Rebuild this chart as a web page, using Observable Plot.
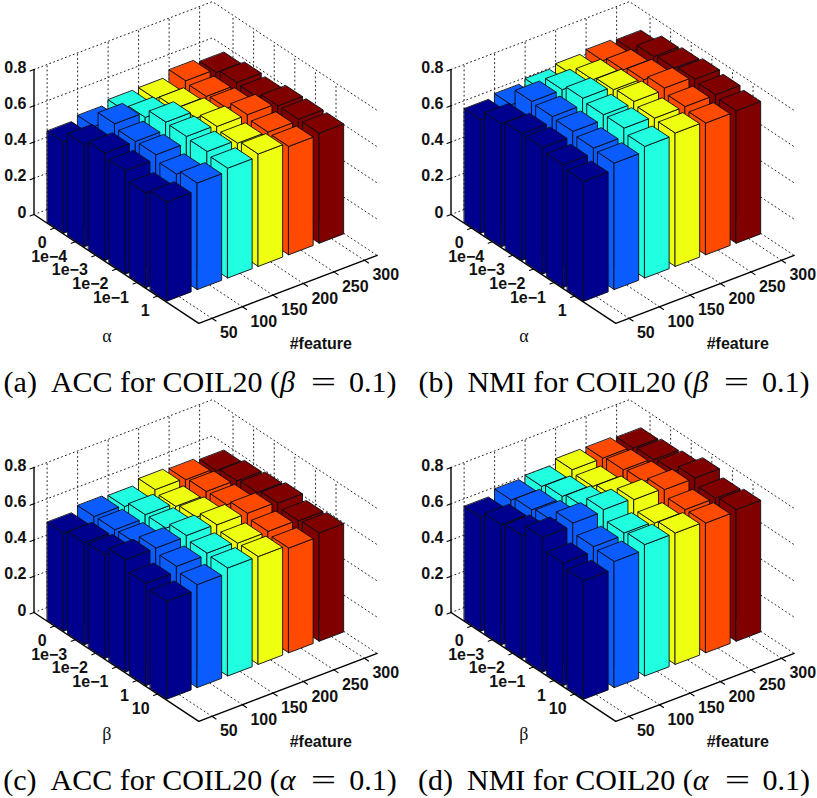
<!DOCTYPE html>
<html><head><meta charset="utf-8">
<script src="https://cdn.jsdelivr.net/npm/d3@7"></script>
<script src="https://cdn.jsdelivr.net/npm/@observablehq/plot@0.6"></script>
<style>
html,body{margin:0;padding:0;background:#fff}
#grid{display:grid;grid-template-columns:417px 400px;grid-template-rows:398px 400px;width:817px;height:798px;overflow:hidden}
.cell{position:relative;width:100%;height:100%}
.cell svg{display:block;max-width:none}
.cap{position:absolute;left:0;width:400px;top:364.5px;text-align:center;white-space:nowrap;font:30px/34px "Liberation Serif",serif;color:#000}
.cell:nth-child(even) .cap{left:-3px}
.cap .tag{margin-right:14px}
.cap .eq{display:inline-block;transform:scaleX(1.5);margin:0 17px 0 20px}
</style></head><body><div id="grid"></div>
<script>
const featureCounts=[50,100,150,200,250,300];
const alphaLevels=["0","1e\u22124","1e\u22123","1e\u22122","1e\u22121","1"];
const betaLevels=["0","1e\u22123","1e\u22122","1e\u22121","1","10"];
const zTicks=[0,0.2,0.4,0.6,0.8];
const jet=["#00008f","#0a5cff","#20ffdf","#efff10","#ff4a00","#800000"];
// rows: regularisation level; columns: #feature 50..300
const accAlpha=[
[.503,.525,.548,.550,.585,.567],
[.563,.615,.586,.573,.574,.587],
[.592,.592,.635,.593,.584,.581],
[.570,.594,.631,.622,.623,.608],
[.522,.562,.623,.605,.602,.609],
[.547,.588,.606,.620,.598,.607]];
const nmiAlpha=[
[.626,.645,.664,.682,.696,.687],
[.679,.738,.739,.730,.721,.730],
[.699,.730,.767,.750,.741,.741],
[.698,.723,.751,.760,.770,.755],
[.678,.706,.752,.743,.743,.744],
[.661,.698,.726,.736,.727,.731]];
const accBeta=[
[.541,.569,.560,.589,.580,.567],
[.563,.571,.590,.572,.590,.585],
[.572,.573,.591,.587,.592,.596],
[.620,.620,.625,.620,.620,.612],
[.564,.594,.603,.594,.595,.589],
[.540,.568,.596,.595,.578,.597]];
const nmiBeta=[
[.628,.660,.671,.699,.699,.690],
[.663,.681,.691,.682,.710,.702],
[.679,.695,.711,.702,.720,.712],
[.743,.758,.768,.759,.750,.750],
[.676,.703,.714,.705,.715,.714],
[.654,.696,.725,.725,.716,.726]];

const origin=[33.5,214], alongLevel=[20.6,13.6], alongFeature=[30.5,-11.6], perZ=181.25;
const uMax=8, vMax=5.85, vStart=.43, half=.4;
const proj=(u,v,z)=>({x:origin[0]+u*alongLevel[0]+v*alongFeature[0], y:origin[1]+u*alongLevel[1]+v*alongFeature[1]-z*perZ});
const levelPos=i=>i+1, featPos=j=>j+vStart;
const seg=(id,pts,extra={})=>pts.map(p=>({id,...proj(...p),...extra}));

function panel(values,levels,symbol){
  const faces=[];
  for(let j=5;j>=0;j--)for(let i=0;i<6;i++){
    const z=values[i][j],u0=levelPos(i)-half,u1=levelPos(i)+half,v0=featPos(j)-half,v1=featPos(j)+half,color=jet[j];
    faces.push(...seg(`l${i}${j}`,[[u0,v0,0],[u1,v0,0],[u1,v0,z],[u0,v0,z]],{color}));
    faces.push(...seg(`r${i}${j}`,[[u1,v0,0],[u1,v1,0],[u1,v1,z],[u1,v0,z]],{color}));
    faces.push(...seg(`t${i}${j}`,[[u0,v0,z],[u1,v0,z],[u1,v1,z],[u0,v1,z]],{color}));
  }
  const grid=[];
  zTicks.forEach((z,k)=>{grid.push(...seg(`z${k}`,[[0,0,z],[0,vMax,z],[uMax,vMax,z]]));});
  levels.forEach((_,i)=>{const u=levelPos(i);grid.push(...seg(`u${i}`,[[u,0,0],[u,vMax,0],[u,vMax,.8]]));});
  featureCounts.forEach((_,j)=>{const v=featPos(j);grid.push(...seg(`v${j}`,[[uMax,v,0],[0,v,0],[0,v,.8]]));});
  const axes=[...seg("az",[[0,0,.8],[0,0,0]]),...seg("af",[[0,0,0],[uMax,0,0],[uMax,vMax,0]])];
  const ticks=[];
  zTicks.forEach((z,k)=>ticks.push(...seg(`tz${k}`,[[0,0,z],[0,-.13,z]])));
  levels.forEach((_,i)=>ticks.push(...seg(`tu${i}`,[[levelPos(i),0,0],[levelPos(i),-.13,0]])));
  featureCounts.forEach((_,j)=>ticks.push(...seg(`tv${j}`,[[uMax,featPos(j),0],[uMax+.2,featPos(j),0]])));
  const sans={fontFamily:"Liberation Sans",fontWeight:"bold",fontSize:16};
  return Plot.plot({
    width:400,height:365,margin:0,
    x:{domain:[0,400],range:[0,400],axis:null},
    y:{domain:[0,365],range:[0,365],axis:null},
    color:{type:"identity"},
    marks:[
      Plot.line(grid,{x:"x",y:"y",z:"id",stroke:"#222",strokeWidth:1,strokeDasharray:"1,3.2"}),
      Plot.line(axes,{x:"x",y:"y",z:"id",stroke:"#000",strokeWidth:1.4}),
      Plot.line(ticks,{x:"x",y:"y",z:"id",stroke:"#000",strokeWidth:1.1}),
      Plot.line(faces,{x:"x",y:"y",z:"id",fill:"color",stroke:"#0b0b14",strokeWidth:.9,curve:"linear-closed"}),
      Plot.text(zTicks,{x:z=>proj(0,0,z).x,y:z=>proj(0,0,z).y,text:d=>d===0?"0":d.toFixed(1),textAnchor:"end",dx:-7.5,dy:-2,...sans,fill:"#111"}),
      Plot.text(levels,{x:(d,i)=>proj(levelPos(i),0,0).x,y:(d,i)=>proj(levelPos(i),0,0).y,text:d=>d,textAnchor:"end",dx:-8,dy:15,...sans,fill:"#111"}),
      Plot.text(featureCounts,{x:(d,j)=>proj(uMax,featPos(j),0).x,y:(d,j)=>proj(uMax,featPos(j),0).y,text:d=>String(d),textAnchor:"start",dx:8,dy:15,...sans,fill:"#111"}),
      Plot.text([symbol],{x:()=>proj(4,0,0).x,y:()=>proj(4,0,0).y,text:d=>d,dx:-9.5,dy:67,fontFamily:"Liberation Serif",fontSize:18,fill:"#111"}),
      Plot.text(["#feature"],{x:()=>proj(uMax,3,0).x,y:()=>proj(uMax,3,0).y,text:d=>d,dx:30.5,dy:55,...sans,fill:"#111"})
    ]
  });
}
const panels=[
 {v:accAlpha,l:alphaLevels,s:"\u03b1",tag:"(a)",m:"ACC",o:"\u03b2"},
 {v:nmiAlpha,l:alphaLevels,s:"\u03b1",tag:"(b)",m:"NMI",o:"\u03b2"},
 {v:accBeta,l:betaLevels,s:"\u03b2",tag:"(c)",m:"ACC",o:"\u03b1"},
 {v:nmiBeta,l:betaLevels,s:"\u03b2",tag:"(d)",m:"NMI",o:"\u03b1"}];
const root=document.getElementById("grid");
for(const p of panels){
  const c=document.createElement("div");c.className="cell";
  c.appendChild(panel(p.v,p.l,p.s));
  const f=document.createElement("div");f.className="cap";
  f.innerHTML=`<span class="tag">${p.tag}</span>${p.m} for COIL20 (<i>${p.o}</i><span class="eq">=</span>0.1)`;
  c.appendChild(f);root.appendChild(c);
}
</script></body></html>
